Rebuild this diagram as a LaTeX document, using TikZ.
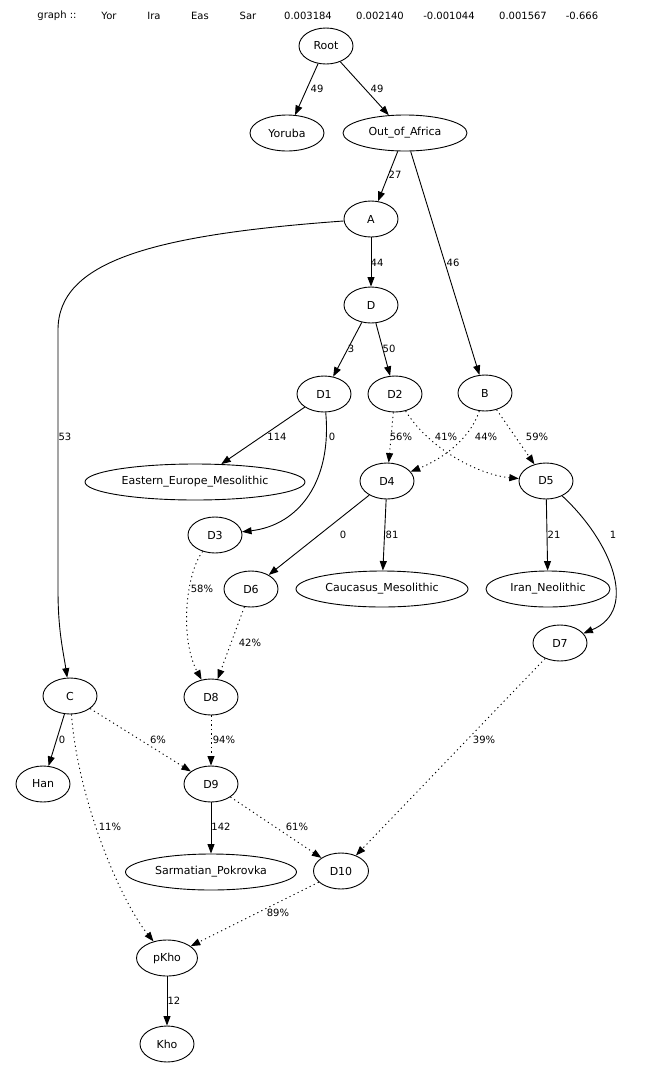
\documentclass[tikz,border=0pt]{standalone}
\usepackage{fontspec}
\setmainfont{DejaVu Sans}
\usetikzlibrary{arrows.meta,shapes.geometric}
\tikzset{
  nd/.style={ellipse,draw,line width=0.9pt,minimum width=54pt,minimum height=36pt,inner sep=0pt,font=\fontsize{11}{13}\selectfont},
  lb/.style={inner sep=0pt,font=\fontsize{10}{12}\selectfont},
  hd/.style={inner sep=0pt,font=\fontsize{10}{12}\selectfont},
  ed/.style={line width=0.9pt,-{Triangle[length=9.5pt,width=7pt]}},
  dt/.style={ed,dash pattern=on 1.2pt off 3.3pt}
}
\begin{document}
\begin{tikzpicture}[x=1pt,y=-1pt]
\useasboundingbox (0,0) rectangle (645,1072);
% header
\node[hd] (h0) at (57,16) {graph ::};
\node[hd] (h1) at (109,16) {Yor};
\node[hd] (h2) at (154,16) {Ira};
\node[hd] (h3) at (200,16) {Eas};
\node[hd] (h4) at (248,16) {Sar};
\node[hd] (h5) at (308,16) {0.003184};
\node[hd] (h6) at (380,16) {0.002140};
\node[hd] (h7) at (449,16) {-0.001044};
\node[hd] (h8) at (523,16) {0.001567};
\node[hd] (h9) at (582,16) {-0.666};
% nodes
\node[nd] (Root) at (326,46) {Root};
\node[nd,minimum width=74pt] (Yoruba) at (287,133) {Yoruba};
\node[nd,minimum width=124pt] (OoA) at (405,133) {Out\_of\_Africa};
\node[nd] (A) at (371,219) {A};
\node[nd] (D) at (371,305) {D};
\node[nd] (D1) at (324,394) {D1};
\node[nd] (D2) at (395,394) {D2};
\node[nd] (B) at (485,393) {B};
\node[nd,minimum width=220pt] (EEM) at (195,482) {Eastern\_Europe\_Mesolithic};
\node[nd] (D4) at (387,481) {D4};
\node[nd] (D5) at (546,481) {D5};
\node[nd] (D3) at (215,535) {D3};
\node[nd] (D6) at (251,589) {D6};
\node[nd,minimum width=172pt] (CM) at (382,589) {Caucasus\_Mesolithic};
\node[nd,minimum width=124pt] (IN) at (548,589) {Iran\_Neolithic};
\node[nd] (D7) at (560,643) {D7};
\node[nd] (C) at (70,696) {C};
\node[nd] (D8) at (211,697) {D8};
\node[nd] (Han) at (43,784) {Han};
\node[nd] (D9) at (211,784) {D9};
\node[nd,minimum width=171pt] (SP) at (211,872) {Sarmatian\_Pokrovka};
\node[nd,minimum width=55pt] (D10) at (341,871) {D10};
\node[nd,minimum width=61pt] (pKho) at (167,958) {pKho};
\node[nd] (Kho) at (167,1044) {Kho};
% edges
\draw[ed] (Root) -- (Yoruba);
\draw[ed] (Root) -- (OoA);
\draw[ed] (OoA) -- (A);
\draw[ed] (OoA) -- (B);
\draw[ed] (A) -- (D);
\draw[ed] (A) .. controls (150,235) and (58,262) .. (58,330) -- (58,590) .. controls (58,630) and (63,650) .. (C);
\draw[ed] (D) -- (D1);
\draw[ed] (D) -- (D2);
\draw[ed] (D1) -- (EEM);
\draw[ed] (D1) .. controls (332,480) and (300,525) .. (D3);
\draw[dt] (D2) -- (D4);
\draw[dt] (D2) .. controls (430,450) and (480,475) .. (D5);
\draw[dt] (B) .. controls (470,440) and (440,460) .. (D4);
\draw[dt] (B) -- (D5);
\draw[ed] (D4) -- (D6);
\draw[ed] (D4) -- (CM);
\draw[ed] (D5) -- (IN);
\draw[ed] (D5) .. controls (610,540) and (640,610) .. (D7);
\draw[dt] (D3) .. controls (185,575) and (180,640) .. (D8);
\draw[dt] (D6) -- (D8);
\draw[dt] (D7) -- (D10);
\draw[ed] (C) -- (Han);
\draw[dt] (C) -- (D9);
\draw[dt] (D8) -- (D9);
\draw[dt] (C) .. controls (78,800) and (120,900) .. (pKho);
\draw[ed] (D9) -- (SP);
\draw[dt] (D9) -- (D10);
\draw[dt] (D10) -- (pKho);
\draw[ed] (pKho) -- (Kho);
% labels
\node[lb] (l1) at (317,89) {49};
\node[lb] (l2) at (377,89) {49};
\node[lb] (l3) at (395,175) {27};
\node[lb] (l4) at (453,263) {46};
\node[lb] (l5) at (377,263) {44};
\node[lb] (l6) at (65,437) {53};
\node[lb] (l7) at (351,349) {3};
\node[lb] (l8) at (389,349) {50};
\node[lb] (l9) at (277,437) {114};
\node[lb] (l10) at (332,437) {0};
\node[lb] (l11) at (401,437) {56\%};
\node[lb] (l12) at (446,437) {41\%};
\node[lb] (l13) at (486,437) {44\%};
\node[lb] (l14) at (537,437) {59\%};
\node[lb] (l15) at (343,535) {0};
\node[lb] (l16) at (392,535) {81};
\node[lb] (l17) at (554,535) {21};
\node[lb] (l18) at (613,535) {1};
\node[lb] (l19) at (202,589) {58\%};
\node[lb] (l20) at (250,643) {42\%};
\node[lb] (l21) at (484,740) {39\%};
\node[lb] (l22) at (62,740) {0};
\node[lb] (l23) at (158,740) {6\%};
\node[lb] (l24) at (224,740) {94\%};
\node[lb] (l25) at (110,827) {11\%};
\node[lb] (l26) at (221,827) {142};
\node[lb] (l27) at (297,827) {61\%};
\node[lb] (l28) at (278,913) {89\%};
\node[lb] (l29) at (174,1001) {12};
\end{tikzpicture}
\end{document}
